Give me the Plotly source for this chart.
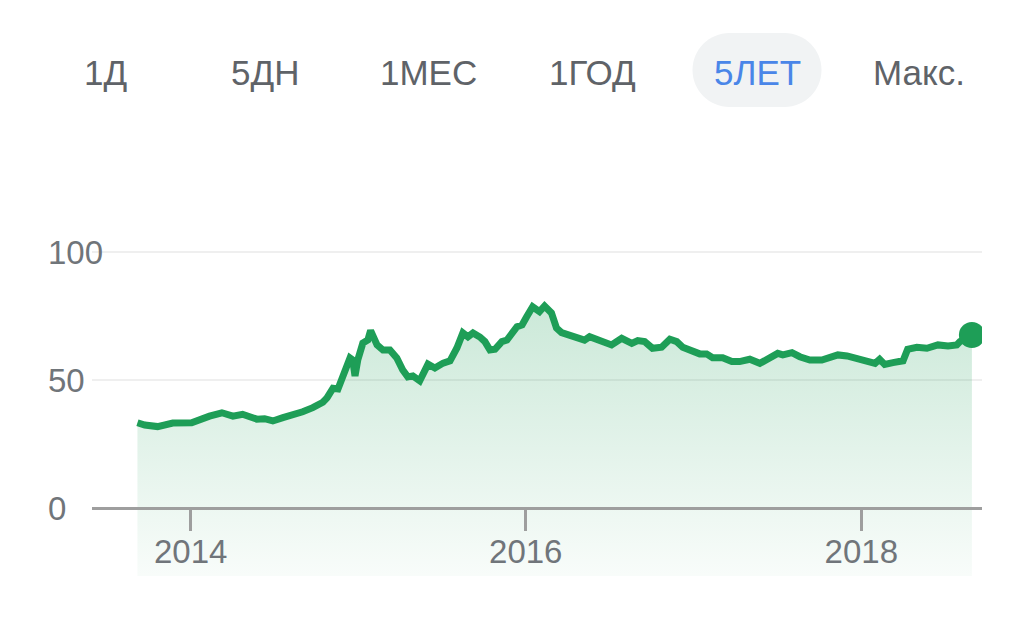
import plotly.graph_objects as go

# USD/RUB style 5-year series
dates = [
    "2013-09-07", "2013-09-23", "2013-10-21", "2013-11-23", "2014-01-03", "2014-01-25",
    "2014-02-11", "2014-03-10", "2014-04-03", "2014-04-24", "2014-05-25", "2014-06-11",
    "2014-06-29", "2014-07-21", "2014-08-11", "2014-09-02", "2014-09-24", "2014-10-16",
    "2014-10-25", "2014-11-07", "2014-11-18", "2014-11-28", "2014-12-14", "2014-12-20",
    "2014-12-25", "2014-12-31", "2015-01-11", "2015-01-22", "2015-01-28", "2015-02-11",
    "2015-02-24", "2015-03-11", "2015-03-26", "2015-04-08", "2015-04-19", "2015-04-30",
    "2015-05-15", "2015-06-02", "2015-06-17", "2015-07-05", "2015-07-20", "2015-08-04",
    "2015-08-17", "2015-08-28", "2015-09-08", "2015-09-23", "2015-10-04", "2015-10-15",
    "2015-10-26", "2015-11-10", "2015-11-21", "2015-12-13", "2015-12-24", "2016-01-03",
    "2016-01-16", "2016-01-31", "2016-02-11", "2016-02-26", "2016-03-08", "2016-03-19",
    "2016-04-12", "2016-05-08", "2016-05-19", "2016-06-16", "2016-07-06", "2016-07-28",
    "2016-08-19", "2016-09-01", "2016-09-16", "2016-10-03", "2016-10-23", "2016-11-10",
    "2016-11-25", "2016-12-08", "2016-12-27", "2017-01-14", "2017-01-29", "2017-02-11",
    "2017-03-05", "2017-03-25", "2017-04-11", "2017-05-03", "2017-05-25", "2017-06-16",
    "2017-07-03", "2017-07-14", "2017-08-03", "2017-08-20", "2017-09-11", "2017-10-07",
    "2017-10-20", "2017-11-11", "2017-12-01", "2017-12-18", "2018-01-13", "2018-01-31",
    "2018-02-10", "2018-02-21", "2018-03-11", "2018-04-02", "2018-04-12", "2018-05-02",
    "2018-05-24", "2018-06-17", "2018-07-09", "2018-07-28", "2018-08-04", "2018-08-30",
]
rates = [
    33.3, 32.4, 31.8, 33.2, 33.3, 35.1,
    35.9, 37.2, 35.9, 36.6, 34.7, 34.9,
    34.0, 35.3, 36.3, 37.6, 39.2, 41.3,
    43.0, 46.8, 46.5, 51.3, 58.6, 57.8,
    51.6, 57.8, 64.4, 65.6, 69.3, 63.7,
    61.7, 61.7, 58.6, 53.9, 51.2, 51.6,
    49.7, 56.2, 54.7, 56.6, 57.5, 62.5,
    68.4, 66.9, 68.4, 66.8, 65.0, 61.7,
    62.0, 65.0, 65.6, 70.8, 71.5, 74.7,
    78.6, 76.7, 78.9, 76.2, 70.3, 68.5,
    66.9, 65.6, 66.9, 65.4, 63.7, 66.3,
    64.3, 65.4, 65.0, 62.4, 62.8, 65.9,
    65.0, 62.8, 61.5, 60.2, 60.2, 58.7,
    58.7, 57.2, 57.2, 58.1, 56.5, 58.5,
    60.4, 59.8, 60.7, 59.1, 57.8, 57.8,
    58.7, 59.8, 59.4, 58.5, 57.2, 56.5,
    58.1, 56.1, 56.8, 57.5, 62.0, 62.8,
    62.4, 63.7, 63.3, 63.7, 65.0, 67.6,
]

year_ticks = ["2014-01-01", "2016-01-01", "2018-01-01"]
year_labels = ["2014", "2016", "2018"]
y_ticks = [0, 50, 100]
# figure spaces keep the labels flush left like the original
y_labels = ["0\u2007\u2007", "50\u2007", "100"]
periods = ["1Д", "5ДН", "1МЕС", "1ГОД", "5ЛЕТ", "Макс."]
active_period = "5ЛЕТ"

GREEN = "#1e9e57"
GREY = "#70757a"
FONT = "Liberation Sans, Arial, sans-serif"

# the page body adds an 8px margin, so the figure is drawn 8px in
OFF = 8
W, H = 1024, 620
# plot box in window pixels: x 92..982, y 247..576
L, R, T, B = 92 - OFF, 42 + OFF, 247 - OFF, 44 + OFF
ymin, ymax = -26.56, 101.95
x_start, x_end = "2013-05-31", "2018-09-21"

fig = go.Figure()

# baseline under the area so the fill runs past the zero axis
fig.add_trace(go.Scatter(
    x=[dates[0], dates[-1]], y=[ymin, ymin], mode="lines",
    line=dict(width=0), hoverinfo="skip", showlegend=False))

fig.add_trace(go.Scatter(
    x=dates, y=rates, mode="lines", fill="tonexty",
    line=dict(color=GREEN, width=7),
    fillgradient=dict(type="vertical", start=ymin, stop=79,
                      colorscale=[[0, "rgba(30,158,87,0.03)"], [1, "rgba(30,158,87,0.23)"]]),
    showlegend=False))

fig.add_trace(go.Scatter(
    x=[dates[-1]], y=[rates[-1]], mode="markers",
    marker=dict(color=GREEN, size=26), showlegend=False))

plot_w = W - L - R
plot_h = H - T - B
fig.update_layout(
    width=W, height=H,
    margin=dict(l=L, r=R, t=T, b=B, pad=0),
    paper_bgcolor="white", plot_bgcolor="white",
    font=dict(family=FONT, color=GREY, size=33),
    xaxis=dict(
        type="date", range=[x_start, x_end],
        anchor="free", position=(0 - ymin) / (ymax - ymin),
        showgrid=False, zeroline=False,
        showline=True, linecolor="#9e9e9e", linewidth=3,
        ticks="outside", ticklen=21, tickwidth=3, tickcolor="#9e9e9e",
        tickvals=year_ticks, ticktext=year_labels,
        ticklabelstandoff=-8,
        tickfont=dict(size=33, color=GREY),
    ),
    yaxis=dict(
        range=[ymin, ymax],
        tickvals=y_ticks, ticktext=y_labels,
        showgrid=True, gridcolor="#efefef", gridwidth=2,
        zeroline=False, showline=False, ticks="",
        ticklabelstandoff=-12,
        tickfont=dict(size=33, color=GREY),
    ),
)

# period selector row above the chart (window pixel centres)
centers = [105, 265, 428, 592, 757, 919]
row_y = 72
for label, cx in zip(periods, centers):
    on = label == active_period
    px_x = (cx - OFF - L) / plot_w
    px_y = (H - B - (row_y - OFF)) / plot_h
    fig.add_annotation(
        text=label, showarrow=False,
        xref="paper", yref="paper", x=px_x, y=px_y,
        xanchor="center", yanchor="middle",
        font=dict(family=FONT, size=35, color="#4a86e8" if on else "#5f6368"),
    )
    if on:
        hw, hh, k = 64.5, 37, 20.4
        a = hw - hh
        pill = (f"M {-a},{-hh} L {a},{-hh} C {a + k},{-hh} {hw},{-k} {hw},0 "
                f"C {hw},{k} {a + k},{hh} {a},{hh} L {-a},{hh} "
                f"C {-a - k},{hh} {-hw},{k} {-hw},0 C {-hw},{-k} {-a - k},{-hh} {-a},{-hh} Z")
        fig.add_shape(
            type="path", path=pill, layer="below",
            xref="paper", yref="paper", xsizemode="pixel", ysizemode="pixel",
            xanchor=px_x, yanchor=(H - B - (row_y - 2 - OFF)) / plot_h,
            fillcolor="#f1f3f4", line=dict(width=0),
        )

fig.write_html("out.html")
